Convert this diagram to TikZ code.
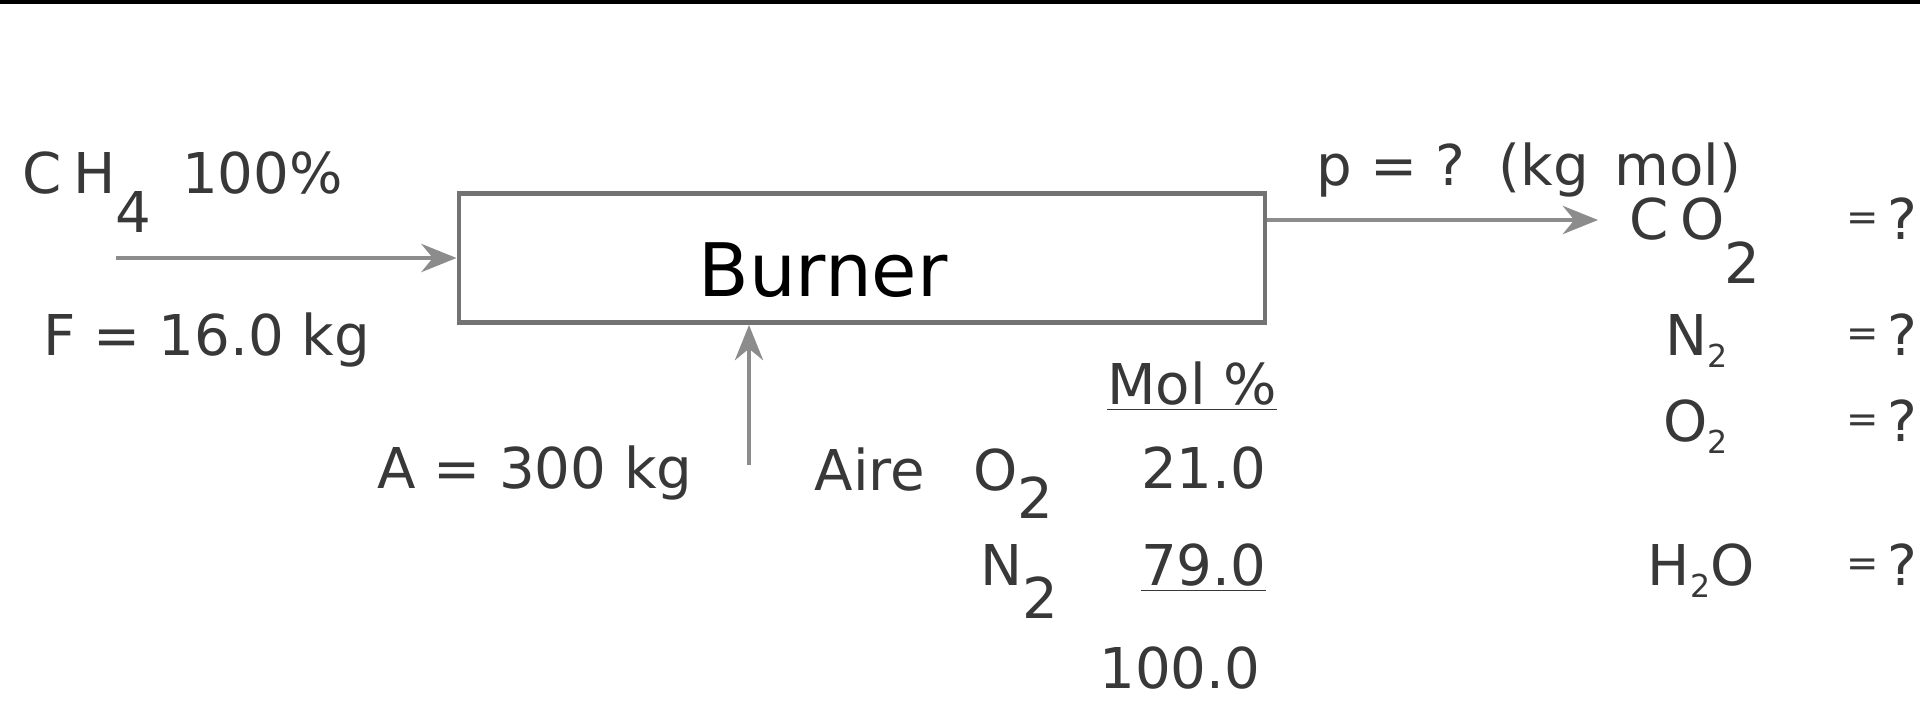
\documentclass[tikz,border=0pt]{standalone}
\usepackage{fontspec}
\setmainfont{DejaVu Sans}
\usepackage{xcolor}
\usepackage{tikz}
\usetikzlibrary{arrows.meta,positioning,calc}
\newcommand{\dropsub}[2]{\raisebox{-#1}{#2}}
\newcommand{\tinysub}[1]{\raisebox{-0.22em}{\small #1}}
\newcommand{\unknown}{\raisebox{0.15em}{\fontsize{11}{13}\selectfont =}\hspace{0.15em}?}

\begin{document}
\begin{tikzpicture}[
    lbl/.style={text=black!78, font=\fontsize{16}{19}\selectfont, inner sep=0pt, anchor=base west},
    flow/.style={-{Stealth[length=10pt,width=8pt]}, line width=1.3pt, black!45},
    unit/.style={draw=black!55, line width=1.4pt, minimum width=8.06cm, minimum height=1.29cm, inner sep=0pt}
]
    % Frame
    \useasboundingbox (0,0) rectangle (19.2,7.15);
    \draw[line width=1.2pt] (0,7.13) -- (19.2,7.13);

    % Burner
    \node[unit] (burner) at (8.62,4.57) {};
    \node[font=\fontsize{21}{25}\selectfont, inner sep=0pt] (burnerlbl) at ([xshift=-0.39cm,yshift=-0.12cm]burner.center) {Burner};

    % Feed
    \node[lbl] (ch4) at (0.22,5.22) {C\hspace{0.2em}H\dropsub{0.7em}{4}\hspace{0.55em}100\%};
    \node[lbl] (feedmass) at (0.43,3.60) {F = 16.0 kg};
    \coordinate (feedin) at (1.16,4.57);
    \draw[flow] (feedin) -- (burner.west);

    % Air
    \coordinate (airin) at (7.49,2.50);
    \draw[flow] (airin) -- (airin |- burner.south);
    \node[lbl] (airmass) at (3.77,2.27) {A = 300 kg};
    \node[lbl] (airlbl) at (8.14,2.25) {Aire};
    \node[lbl] (otwo) at (9.73,2.25) {O\dropsub{0.5em}{2}};
    \node[lbl] (ntwo) at (9.80,1.30) {N\dropsub{0.6em}{2}};
    \node[lbl, anchor=base] (molhdr) at (11.92,3.11) {\underline{Mol \%}};
    \node[lbl, anchor=base east] (ofrac) at (12.67,2.27) {21.0};
    \node[lbl, anchor=base east] (nfrac) at (12.67,1.30) {\underline{79.0}};
    \node[lbl, anchor=base east] (total) at (12.61,0.27) {100.0};

    % Product
    \coordinate (prodout) at (15.98,4.95);
    \draw[flow] (burner.east |- prodout) -- (prodout);
    \node[lbl] (prodlbl) at (13.16,5.30) {p = ?\hspace{0.6em}(kg\hspace{0.45em}mol)};
    \node[lbl] (co2) at (16.29,4.76) {C\hspace{0.2em}O\dropsub{0.8em}{2}};
    \node[lbl] (n2) at (16.65,3.60) {N\tinysub{2}};
    \node[lbl] (o2) at (16.63,2.74) {O\tinysub{2}};
    \node[lbl] (h2o) at (16.47,1.30) {H\tinysub{2}O};
    \foreach \row/\y in {co2/4.76, n2/3.60, o2/2.74, h2o/1.30}
        \node[lbl] (q\row) at (18.46,\y) {\unknown};
\end{tikzpicture}
\end{document}
